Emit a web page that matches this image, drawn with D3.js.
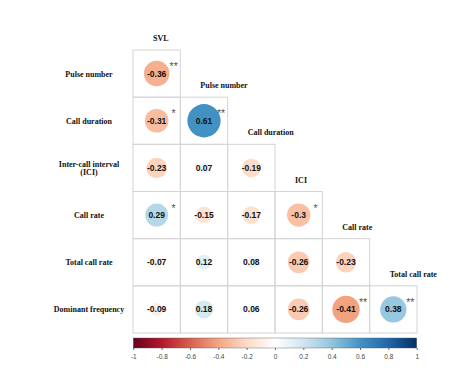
<!DOCTYPE html>
<html><head><meta charset="utf-8">
<script src="https://cdn.jsdelivr.net/npm/d3@7"></script>
<style>body{margin:0;background:#fff}svg{display:block}</style>
</head><body>
<script>
const rowLabels = ["Pulse number","Call duration","Inter-call interval\n(ICI)","Call rate","Total call rate","Dominant frequency"];
const colLabels = ["SVL","Pulse number","Call duration","ICI","Call rate","Total call rate"];
const values = [
  [-0.36],
  [-0.31, 0.61],
  [-0.23, 0.07, -0.19],
  [0.29, -0.15, -0.17, -0.3],
  [-0.07, 0.12, 0.08, -0.26, -0.23],
  [-0.09, 0.18, 0.06, -0.26, -0.41, 0.38]
];
const signif = [
  ["**"],
  ["*", "**"],
  ["", "", ""],
  ["*", "", "", "*"],
  ["", "", "", "", ""],
  ["", "", "", "", "**", "**"]
];
const legendTicks = [-1,-0.8,-0.6,-0.4,-0.2,0,0.2,0.4,0.6,0.8,1];
const paletteColors = ["#67001F","#B2182B","#D6604D","#F4A582","#FDDBC7","#FFFFFF","#D1E5F0","#92C5DE","#4393C3","#2166AC","#053061"];

const W=474,H=379;
const svg=d3.select("body").append("svg").attr("width",W).attr("height",H);
const x=d3.scaleBand().domain(d3.range(6)).range([133,417]);
const y=d3.scaleBand().domain(d3.range(6)).range([50,333]);
const bw=x.bandwidth();
const color=d3.scaleLinear().domain(d3.range(11).map(k=>-1+k*0.2)).range(paletteColors).interpolate(d3.interpolateRgb);
const rScale=d3.scaleSqrt().domain([0,1]).range([0,bw/2*0.9]);

const cells=[];
values.forEach((row,i)=>row.forEach((v,j)=>cells.push({i,j,v,s:signif[i][j]})));

const g=svg.append("g");
g.selectAll("rect.cell").data(cells).join("rect")
 .attr("x",d=>x(d.j)).attr("y",d=>y(d.i)).attr("width",bw).attr("height",y.bandwidth())
 .attr("fill","none").attr("stroke","#d4d4d4").attr("stroke-width",1);
g.selectAll("circle").data(cells).join("circle")
 .attr("cx",d=>x(d.j)+bw/2).attr("cy",d=>y(d.i)+y.bandwidth()/2)
 .attr("r",d=>rScale(Math.abs(d.v))).attr("fill",d=>color(d.v));
g.selectAll("text.val").data(cells).join("text").attr("class","val")
 .attr("x",d=>x(d.j)+bw/2).attr("y",d=>y(d.i)+y.bandwidth()/2+3)
 .attr("text-anchor","middle").attr("font-family","Liberation Sans, Arial, sans-serif")
 .attr("font-size",8.5).attr("font-weight","bold").attr("fill","#111").text(d=>String(d.v));
g.selectAll("text.sig").data(cells.filter(d=>d.s)).join("text").attr("class","sig")
 .attr("x",d=>x(d.j)+bw/2+17).attr("y",d=>y(d.i)+y.bandwidth()/2-3.5)
 .attr("text-anchor","middle").attr("font-family","Liberation Sans, Arial, sans-serif")
 .attr("font-size",10.5).attr("fill","#555").text(d=>d.s);

// row labels
rowLabels.forEach((lab,i)=>{
  const lines=lab.split("\n");
  const cy=y(i)+y.bandwidth()/2;
  const t=svg.append("text").attr("text-anchor","middle")
   .attr("font-family","Liberation Serif, Times New Roman, serif").attr("font-weight","bold")
   .attr("font-size",8).attr("fill","#111");
  lines.forEach((ln,k)=>{
    t.append("tspan").attr("x",89).attr("y",cy+3+(k-(lines.length-1)/2)*8.5).text(ln);
  });
});
// column labels
colLabels.forEach((lab,j)=>{
  svg.append("text").attr("x",x(j)+20).attr("y",y(j)-9)
   .attr("font-family","Liberation Serif, Times New Roman, serif").attr("font-weight","bold")
   .attr("font-size",8).attr("fill","#111").text(lab);
});

// color legend
const lx=d3.scaleLinear().domain([-1,1]).range([133.3,416.7]);
const defs=svg.append("defs");
const grad=defs.append("linearGradient").attr("id","cg").attr("x1","0%").attr("x2","100%");
paletteColors.forEach((c,k)=>grad.append("stop").attr("offset",(k*10)+"%").attr("stop-color",c));
svg.append("rect").attr("x",lx(-1)).attr("y",338).attr("width",lx(1)-lx(-1)).attr("height",10)
 .attr("fill","url(#cg)").attr("stroke","#555").attr("stroke-width",0.4);
const ax=svg.append("g").attr("transform","translate(0,348)")
 .call(d3.axisBottom(lx).tickValues(legendTicks).tickSize(2).tickFormat(d=>String(d)));
ax.select(".domain").remove();
ax.selectAll("line").attr("stroke","#666");
ax.selectAll("text").attr("font-family","Liberation Sans, Arial, sans-serif").attr("font-size",6.5).attr("fill","#444").attr("dy","0.9em");
</script>
</body></html>
